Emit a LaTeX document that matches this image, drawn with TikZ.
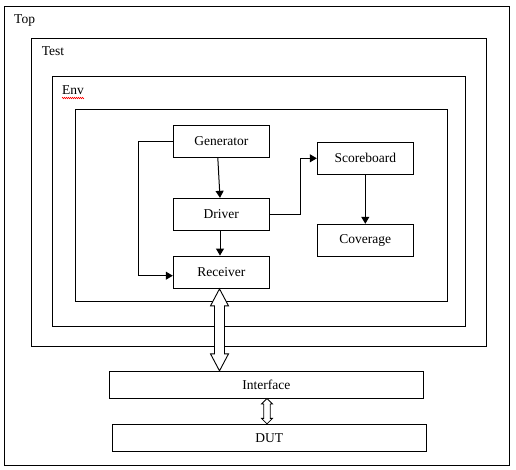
\documentclass[tikz,border=0pt]{standalone}
\usepackage{fontspec}
\setmainfont{Liberation Serif}
\usetikzlibrary{arrows.meta,calc,decorations.pathmorphing}
\tikzset{
  frame/.style={draw, line width=1pt, anchor=north west, inner sep=0pt},
  blk/.style={draw, line width=1pt, rectangle, inner sep=0pt, font=\fontsize{13.5}{15}\selectfont},
  lbl/.style={anchor=base west, inner sep=0pt, font=\fontsize{13.5}{15}\selectfont},
  arr/.style={line width=1pt, -{Triangle[length=7pt,width=8pt]}},
  fatarrow/.style={draw, line width=0.9pt, fill=white, line join=miter}
}
\begin{document}
\begin{tikzpicture}[x=1pt,y=-1pt]
\useasboundingbox (0,0) rectangle (516,470);
% frames
\node[frame, minimum width=505.2pt, minimum height=459pt] (top) at (3.5,6.3) {};
\node[frame, minimum width=454.7pt, minimum height=307.7pt] (test) at (31.3,38.3) {};
\node[frame, minimum width=413pt, minimum height=249.7pt] (env) at (52.3,76.3) {};
\node[frame, minimum width=372pt, minimum height=191.7pt] (inner) at (75.3,109.3) {};
\node[lbl] (ltop) at (14,23.3) {Top};
\node[lbl] (ltest) at (41.7,55.7) {Test};
\node[lbl] (lenv) at (62,95) {Env};
\draw[red, line width=0.5pt, decorate, decoration={zigzag, amplitude=0.7pt, segment length=2pt}] (lenv.base west)++(0,3) -- ++(22,0);
% blocks
\node[blk, minimum width=96pt, minimum height=32pt] (gen) at (221.3,141.3) {Generator};
\node[blk, minimum width=96pt, minimum height=31.7pt] (drv) at (221.3,214.2) {Driver};
\node[blk, minimum width=96pt, minimum height=32.3pt] (rec) at (221.3,272.2) {Receiver};
\node[blk, minimum width=96pt, minimum height=32pt] (sb) at (365.3,158.3) {Scoreboard};
\node[blk, minimum width=96pt, minimum height=32pt] (cov) at (365.3,240.3) {Coverage};
\node[blk, minimum width=314pt, minimum height=26.7pt] (iface) at (266.3,384.7) {Interface};
\node[blk, minimum width=313.7pt, minimum height=26.7pt] (dut) at (269.2,437.7) {DUT};
% connectors
\draw[arr] ([xshift=-3.5pt]gen.south) -- ([xshift=-1.3pt]drv.north);
\draw[arr] ([xshift=-1.3pt]drv.south) -- ([xshift=-1.3pt]rec.north);
\draw[arr] (gen.west) -- ++(-34.3,0) |- ([yshift=-3.5pt]rec.west);
\draw[arr] (drv.east) -- ++(30.7,0) |- (sb.west);
\draw[arr] (sb.south) -- (cov.north);
% big double arrow
\coordinate (bx) at (219.5,0);
\coordinate (p) at (rec.south -| bx);
\coordinate (q) at (iface.north -| bx);
\draw[fatarrow] (p) -- ($(p)+(9,17)$) -- ($(p)+(5,17)$) -- ($(q)+(5,-17)$) -- ($(q)+(9,-17)$) -- (q)
  -- ($(q)+(-9,-17)$) -- ($(q)+(-5,-17)$) -- ($(p)+(-5,17)$) -- ($(p)+(-9,17)$) -- cycle;
% small double arrow
\coordinate (sx) at (267,0);
\coordinate (r) at (iface.south -| sx);
\coordinate (s) at (dut.north -| sx);
\draw[fatarrow, line width=0.8pt] (r) -- ($(r)+(5.5,5.5)$) -- ($(r)+(3.3,5.5)$) -- ($(s)+(3.3,-5.5)$) -- ($(s)+(5.5,-5.5)$) -- (s)
  -- ($(s)+(-5.5,-5.5)$) -- ($(s)+(-3.3,-5.5)$) -- ($(r)+(-3.3,5.5)$) -- ($(r)+(-5.5,5.5)$) -- cycle;
\end{tikzpicture}
\end{document}
